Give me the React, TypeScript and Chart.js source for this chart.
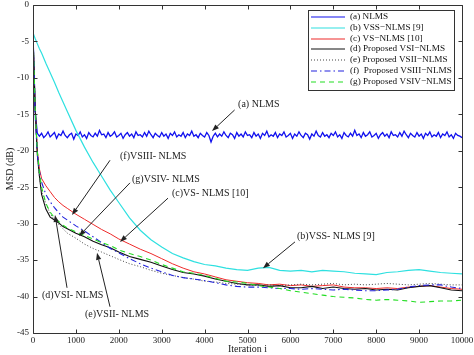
import React, { useEffect, useRef } from "react";
import { Chart, registerables } from "chart.js";

Chart.register(...registerables);

// ---------- DATA ----------
const X_TICKS = [0, 1000, 2000, 3000, 4000, 5000, 6000, 7000, 8000, 9000, 10000];
const Y_TICKS = [0, -5, -10, -15, -20, -25, -30, -35, -40, -45];

const ITER = [0, 25, 50, 100, 150, 200, 300, 400, 500, 600, 700, 800, 1000, 1200, 1400, 1600, 1800, 2000,
  2250, 2500, 2750, 3000, 3250, 3500, 3750, 4000, 4250, 4500, 4750, 5000, 5250, 5500, 5750, 6000,
  6250, 6500, 6750, 7000, 7250, 7500, 7750, 8000, 8250, 8500, 8750, 9000, 9250, 9500, 9750, 10000];

const NLMS_STEP = 50;
const NLMS = [
  -4.0, -14.5, -17.6,
  -18.0, -17.6, -18.2, -17.9, -17.4, -18.1, -17.8, -17.5, -18.3, -17.7, -17.9,
  -17.3, -17.9, -18.2, -17.8, -17.6, -18.4, -17.7, -17.9, -17.4, -18.1, -17.8,
  -18.3, -17.5, -17.9, -18.1, -17.6, -18.0, -17.2, -17.8, -17.7, -18.2, -17.5,
  -18.0, -17.8, -17.4, -18.1, -17.9, -17.6, -18.3, -17.8, -17.5, -18.0, -17.7,
  -18.2, -17.4, -17.9, -17.8, -18.1, -17.5, -18.0, -17.3, -17.8, -18.2, -17.6,
  -17.9, -18.1, -17.5, -18.0, -17.7, -18.3, -17.6, -17.9, -17.4, -18.1, -17.8,
  -18.0, -17.5, -18.2, -17.7, -17.9, -17.3, -18.0, -17.8, -18.2, -17.6, -17.9,
  -18.1, -17.5, -17.9, -18.8, -18.0, -17.6, -18.1, -17.7, -18.0, -17.4, -17.9,
  -18.2, -17.6, -17.8, -18.3, -17.5, -18.0, -17.7, -18.1, -17.4, -17.9, -17.8,
  -18.2, -17.5, -18.0, -17.7, -18.3, -17.6, -17.9, -17.3, -18.1, -17.8, -18.0,
  -17.5, -18.2, -17.7, -17.9, -17.4, -18.1, -17.9, -17.6, -18.3, -17.7, -18.0,
  -17.4, -17.9, -18.2, -17.6, -17.8, -18.4, -17.7, -18.0, -17.3, -17.9, -18.1,
  -17.5, -18.0, -17.8, -18.2, -17.6, -17.9, -17.4, -18.1, -17.8, -18.3, -17.5,
  -17.9, -18.1, -17.6, -18.0, -17.2, -17.9, -17.7, -18.2, -17.5, -18.0, -17.8,
  -17.4, -18.1, -17.9, -17.6, -18.3, -17.8, -17.5, -18.0, -17.7, -18.2, -17.4,
  -17.9, -17.8, -18.1, -17.5, -18.0, -17.3, -17.8, -18.2, -17.6, -17.9, -18.1,
  -17.5, -18.0, -17.7, -18.3, -17.6, -17.9, -17.4, -18.1, -17.8, -18.0, -17.5,
  -18.2, -17.7, -17.9, -17.4, -18.1, -17.8, -18.3, -17.6, -17.9, -18.0, -18.2,
];

const VSS = [-3.8, -4.2, -4.6, -5.3, -6.0, -6.6, -8.0, -9.3, -10.6, -12.0, -13.3, -14.6, -17.2, -19.5, -21.6, -23.5, -25.4, -27.1,
  -29.2, -30.9, -32.2, -33.2, -34.1, -34.7, -35.2, -35.6, -35.8, -36.1, -36.3, -36.4, -36.1, -36.0, -36.4, -36.5,
  -36.4, -36.6, -36.4, -36.5, -36.6, -36.8, -36.9, -37.0, -36.7, -36.6, -36.4, -36.3, -36.5, -36.7, -36.8, -36.9];

const VS = [-4.0, -9.0, -14.0, -20.0, -22.5, -23.8, -24.8, -25.6, -26.4, -27.0, -27.5, -27.9, -28.7, -29.4, -30.1, -30.8, -31.4, -32.1,
  -32.8, -33.5, -34.1, -34.8, -35.5, -36.1, -36.6, -36.9, -37.3, -37.7, -37.9, -38.1, -38.2, -38.4, -38.3, -38.5,
  -38.4, -38.6, -38.5, -38.4, -38.7, -38.8, -38.8, -38.9, -38.8, -38.9, -38.7, -38.6, -38.5, -38.7, -38.9, -39.0];

const VSI = [-4.0, -9.0, -14.0, -20.5, -23.5, -26.0, -28.0, -29.1, -29.5, -29.9, -30.4, -30.7, -31.3, -31.8, -32.4, -32.9, -33.3, -33.9,
  -34.5, -34.9, -35.3, -35.8, -36.3, -36.7, -36.9, -37.2, -37.6, -37.9, -38.2, -38.4, -38.4, -38.6, -38.5, -38.8,
  -38.8, -38.6, -38.9, -38.7, -38.9, -39.0, -38.9, -39.1, -39.0, -39.1, -38.8, -38.6, -38.5, -38.8, -39.1, -39.2];

const VSII = [-4.0, -9.0, -14.0, -20.0, -23.5, -25.5, -27.3, -28.6, -29.5, -30.1, -30.7, -31.3, -32.0, -32.8, -33.4, -33.9, -34.4, -34.9,
  -35.5, -35.9, -36.4, -36.8, -37.1, -37.4, -37.6, -37.9, -38.0, -38.2, -38.3, -38.4, -38.5, -38.4, -38.5, -38.4,
  -38.3, -38.4, -38.3, -38.2, -38.4, -38.3, -38.4, -38.3, -38.2, -38.3, -38.4, -38.3, -38.2, -38.3, -38.4, -38.4];

const VSIII = [-4.0, -9.0, -15.0, -20.5, -22.8, -24.3, -26.0, -27.0, -27.8, -28.5, -29.1, -29.5, -30.3, -31.0, -31.8, -32.6, -33.4, -34.0,
  -34.8, -35.5, -36.1, -36.6, -37.1, -37.4, -37.6, -37.8, -38.1, -38.4, -38.6, -38.7, -38.7, -38.8, -38.9, -38.9,
  -39.0, -38.9, -39.0, -39.1, -39.0, -39.1, -39.2, -39.2, -39.1, -39.0, -38.7, -38.5, -38.4, -38.4, -38.7, -38.9];

const VSIV = [-4.0, -9.0, -14.0, -20.0, -23.0, -25.0, -27.2, -28.4, -29.2, -29.7, -30.2, -30.6, -31.1, -31.6, -32.1, -32.6, -33.0, -33.6,
  -34.1, -34.5, -35.0, -35.6, -36.1, -36.6, -36.8, -37.1, -37.5, -37.9, -38.0, -38.2, -38.5, -38.7, -38.9, -39.2,
  -39.4, -39.6, -39.8, -40.0, -40.1, -40.2, -40.4, -40.5, -40.4, -40.5, -40.6, -40.8, -40.7, -40.6, -40.6, -40.5];

const LABELS = [
  "(a) NLMS",
  "(b) VSS\u2212NLMS [9]",
  "(c) VS\u2212NLMS [10]",
  "(d) Proposed VSI\u2212NLMS",
  "(e) Proposed VSII\u2212NLMS",
  "(f)  Proposed VSIII\u2212NLMS",
  "(g) Proposed VSIV\u2212NLMS",
];

const COLORS = ["#1010ee", "#2ee0e0", "#ee2a2a", "#111111", "#444444", "#2222dd", "#22dd22"];
const DASHES: number[][] = [[], [], [], [], [1, 2], [6, 3, 1.5, 3], [5, 4]];
const WIDTHS = [1.3, 1.2, 1, 1.1, 1, 1.1, 1.1];

// annotations: text anchor (iteration, dB) and arrow from -> to (iteration, dB)
const ANNOTATIONS = [
  { text: "(a) NLMS", at: [4780, -13.7], from: [4700, -14.4], to: [4173, -17.3] },
  { text: "(b)VSS- NLMS [9]", at: [6154, -31.8], from: [6107, -32.5], to: [5361, -36.1] },
  { text: "(c)VS- NLMS [10]", at: [3240, -25.8], from: [3147, -26.5], to: [2028, -32.5] },
  { text: "(f)VSIII- NLMS", at: [2028, -20.7], from: [1795, -21.3], to: [909, -28.8] },
  { text: "(g)VSIV- NLMS", at: [2308, -23.9], from: [2261, -24.4], to: [1072, -31.7] },
  { text: "(d)VSI- NLMS", at: [210, -39.9], from: [793, -38.8], to: [513, -28.8] },
  { text: "(e)VSII- NLMS", at: [1212, -42.4], from: [1795, -41.4], to: [1492, -34.0] },
];

const FONT = "'Liberation Serif', 'Times New Roman', serif";

function pts(xs: number[], ys: number[]) {
  return ys.map((y, i) => ({ x: xs[i], y }));
}

const boxPlugin = {
  id: "boxTicks",
  afterDraw(chart: any) {
    const { ctx, chartArea: a, scales } = chart;
    ctx.save();
    ctx.strokeStyle = "#333";
    ctx.lineWidth = 1;
    const L = Math.round(a.left) + 0.5, R = Math.round(a.right) + 0.5;
    const T = Math.round(a.top) + 0.5, B = Math.round(a.bottom) + 0.5;
    ctx.beginPath();
    ctx.rect(L, T, R - L, B - T);
    for (const v of X_TICKS) {
      const x = Math.round(scales.x.getPixelForValue(v)) + 0.5;
      ctx.moveTo(x, B); ctx.lineTo(x, B - 4);
      ctx.moveTo(x, T); ctx.lineTo(x, T + 4);
    }
    for (const v of Y_TICKS) {
      const y = Math.round(scales.y.getPixelForValue(v)) + 0.5;
      ctx.moveTo(L, y); ctx.lineTo(L + 4, y);
      ctx.moveTo(R, y); ctx.lineTo(R - 4, y);
    }
    ctx.stroke();
    ctx.restore();
  },
};

const annoPlugin = {
  id: "annos",
  afterDatasetsDraw(chart: any) {
    const { ctx, scales } = chart;
    ctx.save();
    ctx.font = `10px ${FONT}`;
    ctx.fillStyle = "#222";
    ctx.textBaseline = "middle";
    ctx.textAlign = "left";
    for (const an of ANNOTATIONS) {
      const tx = scales.x.getPixelForValue(an.at[0]);
      const ty = scales.y.getPixelForValue(an.at[1]);
      ctx.fillText(an.text, tx, ty);
      const x1 = scales.x.getPixelForValue(an.from[0]);
      const y1 = scales.y.getPixelForValue(an.from[1]);
      const x2 = scales.x.getPixelForValue(an.to[0]);
      const y2 = scales.y.getPixelForValue(an.to[1]);
      const ang = Math.atan2(y2 - y1, x2 - x1);
      const hl = 7, hw = 2.6;
      const bx = x2 - hl * Math.cos(ang), by = y2 - hl * Math.sin(ang);
      ctx.strokeStyle = "#222";
      ctx.lineWidth = 1;
      ctx.beginPath();
      ctx.moveTo(x1, y1);
      ctx.lineTo(bx, by);
      ctx.stroke();
      ctx.beginPath();
      ctx.moveTo(x2, y2);
      ctx.lineTo(bx + hw * Math.sin(ang), by - hw * Math.cos(ang));
      ctx.lineTo(bx - hw * Math.sin(ang), by + hw * Math.cos(ang));
      ctx.closePath();
      ctx.fill();
    }
    ctx.restore();
  },
};

const legendPlugin = {
  id: "boxLegend",
  afterDatasetsDraw(chart: any) {
    const { ctx, chartArea: a } = chart;
    const w = 146, h = 80;
    const right = Math.round(a.right) - 8;
    const left = right - w;
    const top = Math.round(a.top) + 5;
    ctx.save();
    ctx.fillStyle = "#fff";
    ctx.fillRect(left, top, w, h);
    ctx.strokeStyle = "#333";
    ctx.lineWidth = 1;
    ctx.strokeRect(left + 0.5, top + 0.5, w, h);
    ctx.font = `9.2px ${FONT}`;
    ctx.textBaseline = "middle";
    ctx.textAlign = "left";
    LABELS.forEach((label, i) => {
      const y = Math.round(top + 7 + i * 10.8);
      ctx.save();
      ctx.strokeStyle = COLORS[i];
      ctx.lineWidth = 1.2;
      ctx.setLineDash(DASHES[i]);
      ctx.beginPath();
      ctx.moveTo(left + 3, y);
      ctx.lineTo(left + 37, y);
      ctx.stroke();
      ctx.restore();
      ctx.fillStyle = "#111";
      ctx.fillText(label, left + 42, y);
    });
    ctx.restore();
  },
};

const zeroPad = (s: any) => {
  s.paddingTop = 0;
  s.paddingBottom = 0;
  s.paddingLeft = 0;
  s.paddingRight = 0;
};

export default function App() {
  const ref = useRef<HTMLCanvasElement | null>(null);
  useEffect(() => {
    if (!ref.current) return;
    const nlmsPts = NLMS.map((y, i) => ({ x: i * NLMS_STEP, y }));
    const series = [nlmsPts, pts(ITER, VSS), pts(ITER, VS), pts(ITER, VSI), pts(ITER, VSII), pts(ITER, VSIII), pts(ITER, VSIV)];
    const chart = new Chart(ref.current, {
      type: "line",
      data: {
        datasets: series.map((data, i) => ({
          label: LABELS[i],
          data,
          borderColor: COLORS[i],
          backgroundColor: COLORS[i],
          borderDash: DASHES[i],
          borderWidth: WIDTHS[i],
          pointRadius: 0,
          tension: 0,
          fill: false,
          order: 10 - i,
        })),
      },
      options: {
        responsive: false,
        animation: false,
        events: [],
        layout: { padding: { left: 4, right: 12, top: 5, bottom: 0 } },
        plugins: { legend: { display: false }, tooltip: { enabled: false } },
        scales: {
          x: {
            type: "linear",
            min: 0,
            max: 10000,
            grid: { display: false, drawTicks: false },
            border: { display: false },
            afterBuildTicks: (s: any) => { s.ticks = X_TICKS.map((v) => ({ value: v })); },
            afterFit: (s: any) => { s.height = 22; zeroPad(s); },
            ticks: { padding: 2, color: "#222", font: { family: FONT, size: 9 }, maxRotation: 0, autoSkip: false, callback: (v: any) => String(v) },
            title: { display: true, text: "Iteration i", color: "#222", font: { family: FONT, size: 10 }, padding: 0 },
          },
          y: {
            type: "linear",
            min: -45,
            max: 0,
            grid: { display: false, drawTicks: false },
            border: { display: false },
            afterBuildTicks: (s: any) => { s.ticks = Y_TICKS.map((v) => ({ value: v })); },
            afterFit: (s: any) => { s.width = 29; zeroPad(s); },
            ticks: { padding: 4, color: "#222", font: { family: FONT, size: 9 }, autoSkip: false, callback: (v: any) => String(v) },
            title: { display: true, text: "MSD (dB)", color: "#222", font: { family: FONT, size: 10 }, padding: 0 },
          },
        },
      },
      plugins: [boxPlugin, annoPlugin, legendPlugin],
    });
    return () => chart.destroy();
  }, []);
  return (
    <div style={{ position: "fixed", left: 0, top: 0, width: 474, height: 355, background: "#fff" }}>
      <canvas ref={ref} width={474} height={355} style={{ width: 474, height: 355, display: "block" }} />
    </div>
  );
}
